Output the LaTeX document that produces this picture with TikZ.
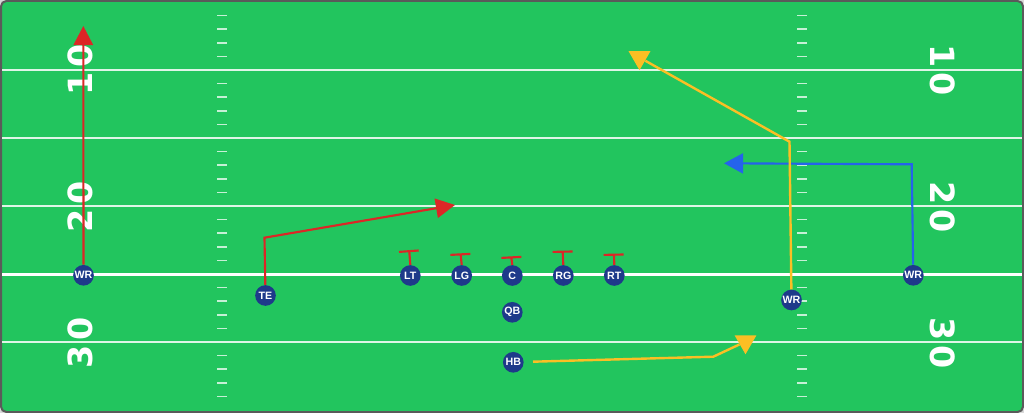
\documentclass[tikz,border=0pt]{standalone}
\usepackage{fontspec}
\setmainfont{Liberation Sans}
\newfontfamily\numfont{DejaVu Sans}
\usetikzlibrary{arrows.meta,shapes.geometric}
\definecolor{fieldgreen}{HTML}{22C55E}
\definecolor{navy}{HTML}{1E3A8A}
\definecolor{routered}{HTML}{DC2626}
\definecolor{routeyellow}{HTML}{FBBF24}
\definecolor{routeblue}{HTML}{2563EB}
\definecolor{framegray}{HTML}{5A5A5A}
\tikzset{
  player/.style={circle,fill=navy,minimum size=15.5pt,inner sep=0pt,text=white,
    font=\fontsize{8}{8}\selectfont\bfseries},
  yardnum/.style={text=white,inner sep=0pt,font=\numfont\fontsize{25}{30}\selectfont\bfseries},
  yardline/.style={white,opacity=.85,line width=1.2pt},
  scrimmage/.style={white,line width=2.4pt},
  hashmark/.style={white,opacity=.75,line width=1.1pt},
  redroute/.style={routered,line width=1.6pt,-{Triangle[length=14.3pt,width=14.5pt]}},
  blueroute/.style={routeblue,line width=1.6pt,-{Triangle[length=14.3pt,width=15pt]}},
  yellowroute/.style={routeyellow,line width=1.8pt},
  yellowtip/.style={regular polygon,regular polygon sides=3,shape border rotate=180,
    fill=routeyellow,inner sep=0pt,minimum size=19pt},
  blockmark/.style={routered,line width=1.6pt}
}
\begin{document}
\begin{tikzpicture}[x=0.75pt,y=-0.75pt]

%field
\useasboundingbox (0,0) rectangle (1024,413);
\fill [gray!30] (0,0) rectangle (1024,413);
\draw [framegray,fill=fieldgreen,line width=1.5pt,rounded corners=4pt] (1,1) rectangle (1023,412);

%yard lines
\foreach \y in {70,138,206,342}
  \draw [yardline] (2,\y) -- (1022,\y);
\draw [scrimmage] (2,274.5) -- (1022,274.5);

%hash marks
\foreach \m in {0,...,5}
  \foreach \j in {1,...,4} {
    \draw [hashmark] (217,{2+68*\m+13.6*\j}) -- ++(10,0);
    \draw [hashmark] (797,{2+68*\m+13.6*\j}) -- ++(10,0);
  }

%yard numbers left
\node [yardnum,rotate=90] (numl10) at (80,70) {1\kern4pt0};
\node [yardnum,rotate=90] (numl20) at (80,207) {2\kern4pt0};
\node [yardnum,rotate=90] (numl30) at (80,343) {3\kern4pt0};

%yard numbers right
\node [yardnum,rotate=-90] (numr10) at (942.5,70) {1\kern4pt0};
\node [yardnum,rotate=-90] (numr20) at (942.5,207) {2\kern4pt0};
\node [yardnum,rotate=-90] (numr30) at (942.5,343) {3\kern4pt0};

%players
\node [player] (wrl) at (83.5,275.3) {WR};
\node [player] (te) at (265.5,295.5) {TE};
\node [player] (lt) at (410.3,275.5) {LT};
\node [player] (lg) at (461.7,275.5) {LG};
\node [player] (c) at (512.3,275.5) {C};
\node [player] (rg) at (563.3,275.5) {RG};
\node [player] (rt) at (614.3,275.5) {RT};
\node [player] (qb) at (512.3,312.3) {QB};
\node [player] (hb) at (513.3,362.3) {HB};
\node [player] (wry) at (791.5,300) {WR};
\node [player] (wrr) at (913.3,275.3) {WR};

%blocks
\draw [blockmark] (lt.north) -- ++(-1,-13.4) ++(-10.3,0.4) -- ++(19.7,-1.4);
\draw [blockmark] (lg.north) -- ++(-1,-10.5) ++(-10.4,0.5) -- ++(20,-1);
\draw [blockmark] (c.north) -- ++(-1,-7.5) ++(-10,0.5) -- ++(20,-1);
\draw [blockmark] (rg.north) -- ++(-0.6,-13.2) ++(-10,0.2) -- ++(20,-0.4);
\draw [blockmark] (rt.north) -- ++(-0.3,-10.2) ++(-10.3,0.2) -- ++(20,-0.4);

%red routes
\coordinate (wrltip) at (83.3,26);
\draw [redroute] (wrl) -- (wrltip);
\coordinate (tecut) at (264.5,237.7);
\coordinate (tetip) at (455,205);
\draw [redroute] (te) -- (tecut) -- (tetip);

%blue route
\coordinate (wrrcut) at (911.7,164.3);
\coordinate (wrrtip) at (724,163.3);
\draw [blueroute] (wrr) -- (wrrcut) -- (wrrtip);

%yellow routes
\node [yellowtip] (ytipa) at (639.5,57.5) {};
\coordinate (wrycut) at (789.5,141.7);
\draw [yellowroute] (wry) -- (wrycut) -- (ytipa);
\node [yellowtip] (ytipb) at (745.5,341.6) {};
\coordinate (hbstart) at (533,361.7);
\coordinate (hbcut) at (713.3,356.7);
\draw [yellowroute] (hbstart) -- (hbcut) -- (ytipb);

\end{tikzpicture}
\end{document}
